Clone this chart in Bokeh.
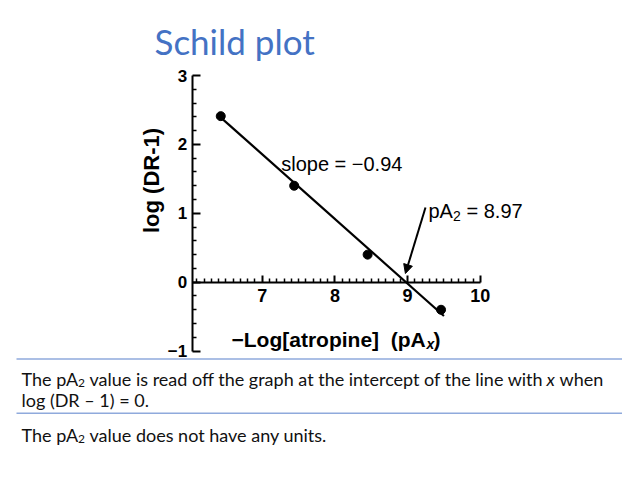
from bokeh.plotting import figure
from bokeh.models import LinearAxis, FixedTicker, Arrow, NormalHead
from bokeh.core.properties import value
from bokeh.embed import file_html
from bokeh.resources import INLINE

# ---- data ----
conc_x = [6.43, 7.44, 8.45, 9.46]          # -log[atropine]
logdr_y = [2.41, 1.40, 0.40, -0.40]        # log(DR-1)
fit_x = [6.42, 9.50]
fit_y = [2.40, -0.49]
slope_value = -0.94
pa2_value = 8.97
y_ticks = [-1, 0, 1, 2, 3]
x_ticks = [7, 8, 9, 10]

# ---- page geometry: reference pixel -> data mapping ----
W, H = 622, 462
OFF = 0
X7_PX, XU = 261.7, 72.7      # pixel of x=7, pixels per x unit
Y0_PX, YU = 281.7, 68.9      # pixel of y=0, pixels per y unit
x_start = 7 - (X7_PX - OFF) / XU
x_end = x_start + W / XU
y_end = (Y0_PX - OFF) / YU
y_start = y_end - H / YU

def fx(px):
    return x_start + (px - OFF) / XU

def fy(py):
    return y_end - (py - OFF) / YU

p = figure(width=W, height=H, x_range=(x_start, x_end), y_range=(y_start, y_end),
           x_axis_type=None, y_axis_type=None, toolbar_location=None,
           output_backend="svg", min_border=0)
p.outline_line_color = None
p.background_fill_color = "white"
p.border_fill_color = "white"

AX_X = fx(191.7)
AX_FONT = "Liberation Sans"

# y axis
yax = LinearAxis(fixed_location=AX_X, bounds=(-1, 3))
minor_y = [round(v / 10, 1) for v in range(-10, 31, 2) if v % 10 != 0]
yax.ticker = FixedTicker(ticks=y_ticks, minor_ticks=minor_y)
yax.major_label_overrides = {-1: "\u22121"}
yax.axis_line_width = 2
yax.axis_line_color = "black"
yax.major_tick_in = 8
yax.major_tick_out = 0
yax.major_tick_line_width = 2
yax.minor_tick_in = 4
yax.minor_tick_out = 0
yax.minor_tick_line_width = 1.5
yax.major_label_standoff = 5
yax.major_label_text_font = AX_FONT
yax.major_label_text_font_style = "bold"
yax.major_label_text_font_size = "17px"
yax.major_label_text_color = "black"
p.add_layout(yax, "left")

# x axis
xax = LinearAxis(fixed_location=0, bounds=(AX_X, 10.0))
minor_x = [round(v / 10, 1) for v in range(61, 100) if v % 10 != 0]
xax.ticker = FixedTicker(ticks=x_ticks, minor_ticks=minor_x)
xax.axis_line_width = 2
xax.axis_line_color = "black"
xax.major_tick_in = 7
xax.major_tick_out = 0
xax.major_tick_line_width = 2
xax.minor_tick_in = 4
xax.minor_tick_out = 0
xax.minor_tick_line_width = 1.5
xax.major_label_standoff = 7
xax.major_label_text_font = AX_FONT
xax.major_label_text_font_style = "bold"
xax.major_label_text_font_size = "18px"
xax.major_label_text_color = "black"
p.add_layout(xax, "below")

# fitted line and points
p.line(fit_x, fit_y, line_color="black", line_width=2.2)
p.scatter(conc_x, logdr_y, size=9, fill_color="black", line_color="black")

# arrow to pA2
p.add_layout(Arrow(end=NormalHead(size=9, fill_color="black", line_color="black"),
                   x_start=fx(425), y_start=fy(207), x_end=pa2_value, y_end=fy(273),
                   line_color="black", line_width=2))

def txt(x, y, s, size, font=AX_FONT, style="normal", color="black", align="left",
        baseline="alphabetic", angle=0):
    p.text(x=[x], y=[y], text=[s], text_font=value(font), text_font_size=size,
           text_font_style=style, text_color=color, text_align=align,
           text_baseline=baseline, angle=angle)

# chart annotations
txt(fx(280.7), fy(163.3), "slope = \u2212%.2f" % abs(slope_value), "20px")
txt(fx(428), fy(210), "pA", "20px")
txt(fx(452.5), fy(215), "2", "14px")
txt(fx(466), fy(210), "= %.2f" % pa2_value, "20px")

# axis titles
txt(fx(151), fy(180), "log (DR-1)", "22px", style="bold", align="center",
    baseline="middle", angle=3.14159265 / 2)
txt(fx(231), fy(339), "\u2212Log[atropine]\u00a0\u00a0(pA", "21px", style="bold")
txt(fx(426), fy(343), "x", "14px", style="bold italic")
txt(fx(433), fy(339), ")", "21px", style="bold")

# slide title
BODY = "Lato"
txt(fx(154), fy(40), "Schild plot", "35px", font=BODY, color="#4472C4")

# separator lines
SEP = "#8FAADC"
p.segment(x0=[fx(16), fx(16)], y0=[fy(358.5), fy(412.7)],
          x1=[fx(625), fx(625)], y1=[fy(358.5), fy(412.7)],
          line_color=SEP, line_width=1.5)

# body text
BS = "18px"
SS = "12px"
TC = "#111111"
txt(fx(21), fy(378), "The pA", BS, font=BODY, color=TC)
txt(fx(77.5), fy(382), "2", SS, font=BODY, color=TC)
txt(fx(89), fy(378), "value is read off the graph at the intercept of the line with", BS, font=BODY, color=TC)
txt(fx(546), fy(378), "x", BS, font=BODY, style="italic", color=TC)
txt(fx(559), fy(378), "when", BS, font=BODY, color=TC)
txt(fx(21), fy(399), "log (DR \u2013 1) = 0.", BS, font=BODY, color=TC)
txt(fx(21), fy(434), "The pA", BS, font=BODY, color=TC)
txt(fx(77.5), fy(438), "2", SS, font=BODY, color=TC)
txt(fx(89), fy(434), "value does not have any units.", BS, font=BODY, color=TC)

open("out.html", "w").write(file_html(p, INLINE))
